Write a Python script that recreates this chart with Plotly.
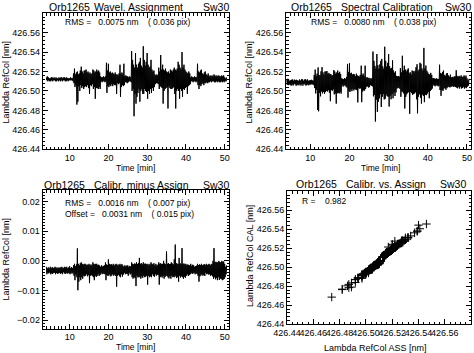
import numpy as np
import plotly.graph_objects as go

# ---------------- data ----------------
T_START, T_STEP = 4.0, 0.125         # sampling grid of the time series [min]
ASSIGN_BASE = 426.512                # nm, baseline of the wavelength assignment

# deviations of "Wavel. Assignment" from its baseline, in 0.001 nm (8 samples / min)
assign_dev = [
    2, -1, 3, -2, 2, -1, 1, -2,        # t=4
    1, -2, 2, -1, 2, -2, 1, -1,        # 5
    2, -1, 1, -2, 2, -2, 1, -1,        # 6
    1, -2, 2, -1, 1, -2, 2, -1,        # 7
    2, -2, 1, -1, 2, -1, 2, -2,        # 8
    1, -2, 2, -1, 1, -2, 1, -1,        # 9
    1, -1, 2, -1, 1, -1, 1, -2,        # 10
    6, -4, 11, -8, 5, -6, 7, -26,      # 11
    8, -23, 5, -7, 6, -12, 9, -6,      # 12
    13, -9, 8, -7, 6, -10, 9, -8,      # 13
    9, -7, 10, -8, 7, -6, 8, -9,       # 14
    6, -15, 7, -6, 5, -7, 6, -5,       # 15
    10, -10, 9, -8, 7, -20, 8, -9,     # 16
    10, -9, 8, -10, 9, -8, 7, -10,     # 17
    3, -2, 2, -3, 2, -2, 3, -2,        # 18
    2, -3, 3, -2, 17, -14, 9, -7,      # 19
    16, -8, 7, -6, 8, -7, 6, -5,       # 20
    7, -7, 6, -5, 5, -6, 7, -6,        # 21
    5, -15, 5, -4, 4, -5, 6, -4,       # 22
    15, -18, 6, -8, 7, -6, 5, -7,      # 23
    16, -6, 3, -3, 4, -3, 3, -4,       # 24
    3, -3, 2, -2, 3, -2, 2, -3,        # 25
    29, -12, 20, -10, 15, -38, 12, -15,  # 26
    27, -25, 15, -18, 12, -14, 16, -10,  # 27
    18, -23, 22, -12, 14, -10, 12, -15,  # 28
    34, -15, 20, -10, 14, -12, 18, -13,  # 29
    27, -20, 15, -12, 12, -15, 13, -10,  # 30
    20, -14, 10, -9, 8, -12, 9, -8,    # 31
    5, -5, 4, -4, 5, -4, 4, -5,        # 32
    12, -10, 8, -7, 25, -8, 10, -9,    # 33
    15, -25, 10, -12, 9, -10, 11, -9,  # 34
    8, -8, 7, -30, 8, -7, 6, -9,       # 35
    10, -10, 9, -10, 8, -9, 10, -8,    # 36
    12, -15, 10, -30, 9, -12, 11, -10,  # 37
    18, -12, 15, -20, 12, -10, 10, -12,  # 38
    28, -18, 12, -10, 15, -11, 10, -9,  # 39
    8, -8, 7, -15, 6, -7, 8, -6,       # 40
    6, -5, 2, -2, 3, -2, 2, -3,        # 41
    2, -2, 3, -2, 2, -3, 2, -2,        # 42
    16, -6, 8, -10, 7, -6, 9, -7,      # 43
    10, -5, 6, -4, 5, -6, 7, -4,       # 44
    8, -4, 5, -3, 4, -4, 6, -3,        # 45
    3, -3, 4, -2, 3, -3, 4, -2,        # 46
    3, -2, 5, -3, 4, -3, 3, -2,        # 47
    4, -3, 3, -2, 4, -3, 3, -3,        # 48
    3, -2, 4, -3, 3, -2, 4, -3,        # 49
    2, -2, 1, -2, 2,                   # 50
]

# "Calibr. minus Assign", in 0.001 nm (same sampling)
diff_val = [
    -2.0, -4.5, -2.5, -4.0, -2.2, -4.2, -2.6, -3.9,   # 4
    -2.0, -4.5, -2.5, -4.2, -2.1, -4.4, -2.4, -4.0,   # 5
    -2.3, -4.0, -2.0, -4.5, -2.5, -4.1, -2.2, -4.3,   # 6
    -2.5, -4.2, -2.2, -4.0, -2.4, -4.4, -2.1, -4.1,   # 7
    -2.0, -4.5, -2.5, -3.8, -2.3, -4.2, -2.0, -4.4,   # 8
    -2.2, -4.0, -2.0, -4.3, -2.5, -4.1, -2.2, -4.2,   # 9
    -1.8, -4.5, -2.5, -4.0, -2.1, -4.3, -2.4, -4.0,   # 10
    -1.5, -5.0, -1.0, -6.5, -1.8, -4.6, -1.2, -5.5,   # 11
    4.2, -9.9, -1.0, -7.0, -1.5, -5.5, -0.8, -6.5,    # 12
    -0.5, -5.5, -1.0, -6.0, -1.3, -5.0, -1.0, -5.2,   # 13
    -1.0, -5.0, -1.5, -4.5, -1.2, -5.2, -1.4, -4.8,   # 14
    -1.0, -7.5, -1.5, -5.0, -1.2, -4.8, -1.6, -5.1,   # 15
    -0.5, -5.5, -1.0, -6.5, -1.2, -5.0, -1.0, -5.4,   # 16
    -1.0, -5.0, -1.5, -4.5, -1.3, -5.1, -1.6, -4.7,   # 17
    -2.0, -4.0, -1.5, -4.5, -1.9, -4.2, -1.7, -4.4,   # 18
    -1.5, -4.5, -0.5, -6.5, -1.2, -4.8, -1.4, -5.0,   # 19
    0.5, -5.0, -1.0, -4.5, -1.3, -5.2, -1.1, -4.9,    # 20
    -1.5, -4.5, -1.0, -5.0, -1.6, -4.6, -1.2, -5.1,   # 21
    -1.0, -8.7, -1.5, -5.0, -1.2, -4.7, -1.4, -5.2,   # 22
    -1.0, -5.5, -1.5, -4.5, -1.1, -5.3, -1.6, -4.6,   # 23
    -2.0, -4.0, -1.5, -4.5, -1.8, -4.3, -1.6, -4.4,   # 24
    -1.5, -5.0, -2.0, -4.0, -1.7, -4.6, -1.9, -4.2,   # 25
    -0.5, -5.5, -1.0, -6.0, -1.2, -5.4, -0.9, -5.8,   # 26
    -1.0, -8.5, -0.5, -5.0, -1.1, -5.6, -0.7, -5.3,   # 27
    1.0, -5.5, -1.0, -6.0, -0.8, -5.2, -1.2, -5.7,    # 28
    -0.5, -5.0, -1.0, -5.5, -0.9, -5.3, -1.1, -5.0,   # 29
    -1.0, -8.0, -1.5, -5.0, -1.0, -5.5, -1.3, -5.2,   # 30
    -0.5, -5.5, -1.0, -4.5, -1.2, -5.1, -0.8, -5.4,   # 31
    -1.5, -4.5, -1.0, -5.0, -1.6, -4.6, -1.3, -4.8,   # 32
    -0.5, -8.0, -1.0, -5.5, -0.8, -5.2, -1.1, -5.6,   # 33
    -1.0, -5.0, 0.0, -6.0, -0.9, -5.4, -1.2, -5.0,    # 34
    3.2, -5.0, -1.0, -5.5, -0.8, -5.9, -1.1, -5.2,    # 35
    -1.0, -6.0, -0.5, -5.0, -0.9, -5.5, -1.2, -5.3,   # 36
    0.5, -5.5, 5.5, -5.0, -0.7, -5.8, -1.0, -5.4,     # 37
    -1.0, -7.0, 1.0, -5.0, -0.8, -5.6, -1.1, -5.2,    # 38
    4.3, -5.5, -1.0, -6.0, -0.9, -5.3, -1.2, -5.7,    # 39
    -1.0, -5.0, -1.5, -4.5, -1.2, -5.1, -1.4, -4.8,   # 40
    -1.5, -4.5, -1.0, -4.0, -1.7, -4.4, -1.3, -4.2,   # 41
    -1.5, -4.0, -2.0, -4.5, -1.8, -4.2, -1.6, -4.4,   # 42
    -1.0, -5.0, -1.5, -7.0, -1.2, -5.2, -1.4, -4.9,   # 43
    -1.0, -4.5, -1.5, -5.0, -1.3, -4.7, -1.1, -5.1,   # 44
    -1.5, -4.0, -1.0, -4.5, -1.4, -4.3, -1.2, -4.6,   # 45
    -1.0, -4.5, -1.5, -5.0, -1.2, -4.8, -1.0, -5.2,   # 46
    0.0, -6.0, 4.3, -5.5, -0.5, -6.2, -0.3, -5.8,     # 47
    -0.5, -6.5, -0.5, -5.5, 0.0, -6.4, -0.4, -6.0,    # 48
    -0.5, -6.0, 0.0, -6.5, -0.3, -6.3, -0.2, -6.1,    # 49
    -1.0, -5.5, -2.0, -4.5, -1.5,                     # 50
]

n = min(len(assign_dev), len(diff_val))
time = T_START + T_STEP * np.arange(n)
assign = ASSIGN_BASE + np.array(assign_dev[:n]) / 1000.0
diff = np.array(diff_val[:n]) / 1000.0
calib = assign + diff

titles = [
    ("Orb1265", "Wavel. Assignment", "Sw30"),
    ("Orb1265", "Spectral Calibration", "Sw30"),
    ("Orb1265", "Calibr. minus Assign", "Sw30"),
    ("Orb1265", "Calibr. vs. Assign", "Sw30"),
]
NB = "\u00a0"
notes = [
    ["RMS =" + NB * 3 + "0.0075 nm" + NB * 4 + "( 0.036 pix)"],
    ["RMS =" + NB * 3 + "0.0080 nm" + NB * 4 + "( 0.038 pix)"],
    ["RMS =" + NB * 3 + "0.0016 nm" + NB * 4 + "( 0.007 pix)",
     "Offset =" + NB * 3 + "0.0031 nm" + NB * 4 + "( 0.015 pix)"],
    ["R =" + NB * 4 + "0.982"],
]

# ---------------- figure ----------------
W, H = 474, 353
FONT = "Liberation Sans"


def px(x):
    return x / W


def py(y):
    return 1 - y / H


fig = go.Figure()
line = dict(color="black", width=1)
fig.add_trace(go.Scatter(x=time, y=assign, mode="lines", line=line, xaxis="x", yaxis="y"))
fig.add_trace(go.Scatter(x=time, y=calib, mode="lines", line=line, xaxis="x2", yaxis="y2"))
fig.add_trace(go.Scatter(x=time, y=diff, mode="lines", line=line, xaxis="x3", yaxis="y3"))
fig.add_trace(go.Scatter(x=assign, y=calib, mode="markers",
                         marker=dict(symbol="cross-thin", size=6,
                                     line=dict(color="black", width=1)),
                         xaxis="x4", yaxis="y4"))

boxes = {
    1: (42.7, 229.3, 13.3, 149.3),
    2: (286.0, 471.3, 13.3, 149.3),
    3: (42.7, 229.3, 190.0, 328.5),
    4: (287.0, 471.0, 191.3, 324.3),
}
TOP = 426.5799
xr = {1: [3.05, 51.2], 2: [3.8, 51.1], 3: [3.05, 51.2], 4: [426.44, TOP]}
yr = {1: [426.44, TOP], 2: [426.44, TOP], 3: [-0.0228, 0.0239], 4: [426.44, TOP]}
xd = {1: (10, 1), 2: (10, 1), 3: (10, 1), 4: (0.02, 0.004)}
yd = {1: (0.02, 0.004), 2: (0.02, 0.004), 3: (0.01, 0.001), 4: (0.02, 0.004)}

tickfont = dict(family=FONT, size=9, color="black")
layout = dict(width=W, height=H, margin=dict(l=0, r=0, t=0, b=0, autoexpand=False),
              paper_bgcolor="white", plot_bgcolor="white", showlegend=False)

for k in range(1, 5):
    x0, x1, y0, y1 = boxes[k]
    sfx = "" if k == 1 else str(k)
    common = dict(showline=True, linecolor="black", linewidth=1, mirror="allticks",
                  ticks="inside", ticklen=5, tickwidth=1, tickcolor="black",
                  showgrid=False, zeroline=False, tickfont=tickfont, tickangle=0,
                  ticklabeloverflow="allow", automargin=False)
    layout["xaxis" + sfx] = dict(common, domain=[px(x0), px(x1)], range=xr[k],
                                 anchor="y" + sfx, dtick=xd[k][0], tick0=0,
                                 tickformat=".2f" if k == 4 else "d",
                                 minor=dict(ticks="inside", ticklen=2.5, dtick=xd[k][1],
                                            tickcolor="black", tickwidth=1, showgrid=False))
    layout["yaxis" + sfx] = dict(common, domain=[py(y1), py(y0)], range=yr[k],
                                 anchor="x" + sfx, dtick=yd[k][0], tick0=0,
                                 tickformat=".2f",
                                 minor=dict(ticks="inside", ticklen=2.5, dtick=yd[k][1],
                                            tickcolor="black", tickwidth=1, showgrid=False))

ann = []


def text(x, y, s, size=8.5, anchor="left", angle=0):
    ann.append(dict(x=px(x), y=py(y), xref="paper", yref="paper", text=s, showarrow=False,
                    xanchor=anchor, yanchor="middle", textangle=angle, borderpad=0,
                    font=dict(family=FONT, size=size, color="black")))


# titles (three parts each)
title_pos = [
    (48, 93, 230, 6.5),
    (290, 340, 472, 6.5),
    (43, 93, 230, 185),
    (295, 345, 467, 184),
]
for (a, b, c), (xa, xb, xc, yy) in zip(titles, title_pos):
    text(xa, yy, a, size=10.5)
    text(xb, yy, b, size=10.5)
    text(xc, yy, c, size=10.5, anchor="right")

# in-plot notes
text(64, 22.3, notes[0][0])
text(310, 22.3, notes[1][0])
text(64, 202.7, notes[2][0])
text(64, 213.7, notes[2][1])
text(301, 201, notes[3][0])

# axis titles
text(135, 168, "Time [min]", size=8.5, anchor="center")
text(380, 168, "Time [min]", size=8.5, anchor="center")
text(135, 347, "Time [min]", size=8.5, anchor="center")
text(375, 348, "Lambda RefCol ASS [nm]", size=9, anchor="center")
text(5.5, 82, "Lambda RefCol [nm]", size=9, anchor="center", angle=-90)
text(248.5, 82, "Lambda RefCol [nm]", size=9, anchor="center", angle=-90)
text(5.5, 259, "Lambda RefCol [nm]", size=9, anchor="center", angle=-90)
text(250, 256, "Lambda RefCol CAL [nm]", size=9, anchor="center", angle=-90)

layout["annotations"] = ann
fig.update_layout(**layout)
fig.write_html("out.html")
